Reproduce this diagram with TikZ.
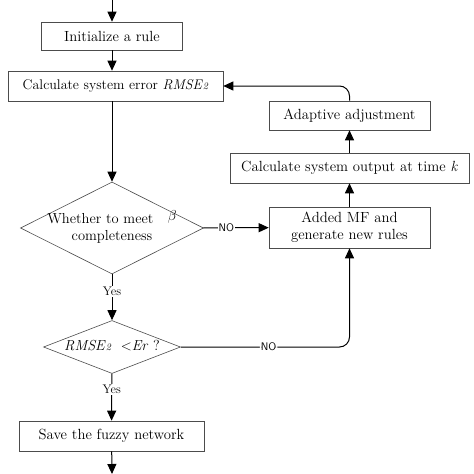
\documentclass[tikz,border=0pt]{standalone}
\usetikzlibrary{arrows.meta,shapes.geometric}

% text that does not widen the diamond round it
\newcommand{\flattext}[1]{\smash{\makebox[0pt]{\raisebox{-3.5pt}{\begin{tabular}{@{}c@{}}#1\end{tabular}}}}}

\tikzset{
	stepbox/.style={draw=black!70, line width=0.6pt, rectangle, inner sep=0pt, font=\fontsize{14.7}{17}\selectfont, align=center},
	choice/.style={draw=black!70, line width=0.6pt, diamond, inner sep=0pt, font=\fontsize{14.5}{17}\selectfont},
	flow/.style={line width=1pt, -{Triangle[length=10pt, width=9pt]}},
	tag/.style={fill=white, inner sep=1pt, font=\sffamily\fontsize{11}{12}\selectfont}
}

\begin{document}
\begin{tikzpicture}[x=1pt, y=-1pt]
			%%%%% START %%%%%
			\useasboundingbox (0,0) rectangle (474,474);
			
			\coordinate (begin) at (112,0);
			\coordinate (finish) at (112,474);
			
			% left column
			\node[stepbox, minimum width=141pt, minimum height=28pt] (init) at (112,36) {Initialize a rule};
			\node[stepbox, minimum width=215pt, minimum height=30pt, font=\fontsize{14}{16.5}\selectfont] (calcerr) at (115.5,86) {Calculate system error \textit{RMSE}{\fontsize{10}{12}\selectfont\textit{2}}};
			\node[choice, minimum width=183pt, minimum height=92pt] (meet) at (112,228) {\flattext{Whether to meet\quad\raisebox{3pt}{$\beta$}\\completeness}};
			\node[choice, minimum width=137pt, minimum height=53pt] (less) at (112,347) {\flattext{\textit{RMSE}{\fontsize{10}{12}\selectfont\textit{2}}\ \ $<$\textit{Er} ?}};
			\node[stepbox, minimum width=185pt, minimum height=30pt] (save) at (111.5,436) {Save the fuzzy network};
			
			% right column
			\node[stepbox, minimum width=161pt, minimum height=29pt] (adapt) at (349.5,115.5) {Adaptive adjustment};
			\node[stepbox, minimum width=239pt, minimum height=30pt] (calcout) at (349.5,168) {Calculate system output at time \textit{k}};
			\node[stepbox, minimum width=161pt, minimum height=41pt] (added) at (349.5,227.5) {Added MF and\\generate new rules};
			
			% connectors
			\draw[flow] (begin) -- (init);
			\draw[flow] (init) -- (init |- calcerr.north);
			\draw[flow] (calcerr.south -| init) -- (meet);
			\draw[flow] (meet) -- (less) node[tag, pos=0.37, font=\fontsize{12.5}{14}\selectfont] {Yes};
			\draw[flow] (less) -- (save) node[tag, pos=0.33, font=\fontsize{12.5}{14}\selectfont] {Yes};
			\draw[flow] (save) -- (finish);
			
			\draw[flow] (meet) -- (added) node[tag, pos=0.35] {NO};
			\draw[flow, rounded corners=10pt] (less) -| (added) node[tag, pos=0.26] {NO};
			\draw[flow] (added) -- (calcout);
			\draw[flow] (calcout) -- (adapt);
			\draw[flow, rounded corners=10pt] (adapt) |- (calcerr);
			
			%%%%% END %%%%%
\end{tikzpicture}
\end{document}
